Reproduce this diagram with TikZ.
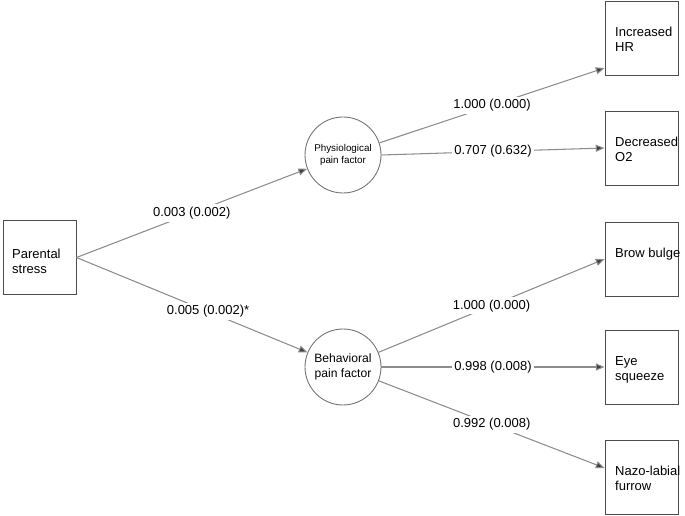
\documentclass[tikz,border=0pt]{standalone}
\usepackage{fontspec}
\setmainfont{Liberation Sans}
\usetikzlibrary{arrows.meta}
\begin{document}
\begin{tikzpicture}[x=0.02cm,y=-0.02cm,
  box/.style={draw=black!70,line width=0.5pt,minimum width=73*0.02cm,minimum height=74*0.02cm,inner sep=0pt},
  btxt/.style={font=\fontsize{7.4}{8.6}\selectfont,align=left},
  circ/.style={draw=black!55,circle,line width=0.5pt,minimum size=76*0.02cm,inner sep=0pt,align=center},
  con/.style={draw=black!45,line width=0.6pt,-{Triangle[length=5pt,width=4pt,fill=black!75]}},
  lab/.style={fill=white,font=\fontsize{7.4}{8.6}\selectfont,inner sep=1.5pt}]
\useasboundingbox (0,0) rectangle (685,516);
\node[box] (ps) at (39.5,257.5) {};
\node[btxt,anchor=north west] at (6,243) {Parental\\stress};
\node[circ,font=\fontsize{5.6}{6.8}\selectfont] (ph) at (343,155) {Physiological\\pain factor};
\node[circ,font=\fontsize{6.9}{8.2}\selectfont] (be) at (343,367) {Behavioral\\pain factor};
\foreach \n/\y/\a/\b in {hr/38/Increased/HR, o2/148/Decreased/O2, bb/259/Brow bulge/{}, es/367/Eye/squeeze, nl/477/Nazo-labial/furrow}{
  \node[box] (\n) at (641.5,\y) {};
  \node[btxt,anchor=north west] at (609,\y-17) {\a\\\b};
}
\draw[con] (ps.east) -- node[lab,pos=0.5] {0.003 (0.002)} (ph);
\draw[con] (ps.east) -- node[lab,pos=0.57] {0.005 (0.002)*} (be);
\draw[con] (ph) -- node[lab] {1.000 (0.000)} (hr.west|-0,68);
\draw[con] (ph.east) -- node[lab] {0.707 (0.632)} (o2.west);
\draw[con] (be) -- node[lab] {1.000 (0.000)} (bb.west);
\draw[con] (be.east) -- node[lab] {0.998 (0.008)} (es.west);
\draw[con] (be) -- node[lab] {0.992 (0.008)} (nl.west|-0,468);
\end{tikzpicture}
\end{document}
